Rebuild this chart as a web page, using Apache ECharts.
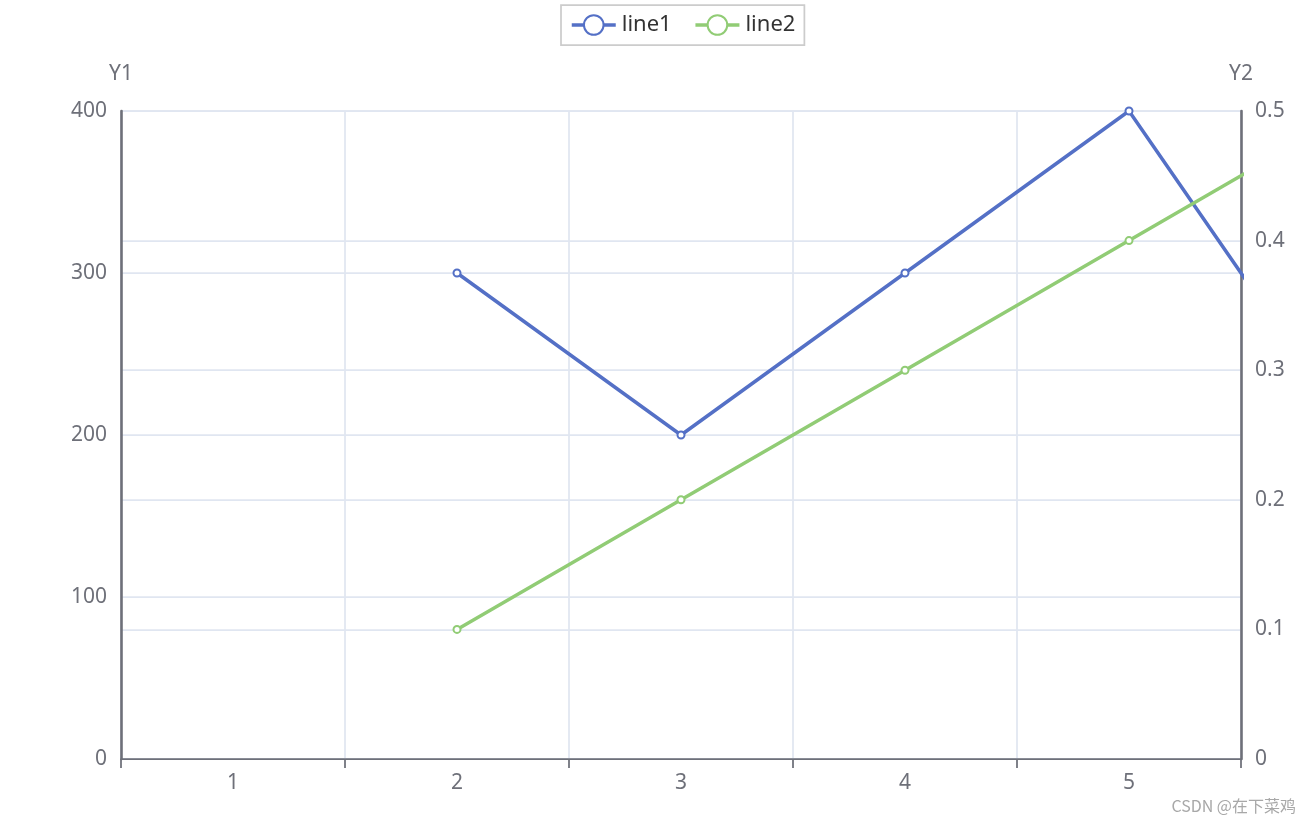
<!DOCTYPE html>
<html>
<head>
<meta charset="utf-8">
<script src="https://cdn.jsdelivr.net/npm/echarts@6/dist/echarts.min.js"></script>
<style>
html,body{margin:0;padding:0;background:#fff;}
#main{width:1312px;height:823px;}
</style>
</head>
<body>
<div id="main"></div>
<script>
var categories = ['1', '2', '3', '4', '5'];
var line1X = [1, 2, 3, 4, 5];
var line1Values = [300, 200, 300, 400, 200];
var line2X = [1, 2, 3, 4, 5];
var line2Values = [0.1, 0.2, 0.3, 0.4, 0.5];
var seriesNames = ['line1', 'line2'];
var watermark = 'CSDN @在下菜鸡';

var FONT = '"Noto Sans", "Noto Sans CJK SC", sans-serif';
var chart = echarts.init(document.getElementById('main'));

function pairs(xs, ys) {
  return xs.map(function (x, i) { return [x, ys[i]]; });
}

var option = {
  backgroundColor: '#fff',
  textStyle: { fontFamily: FONT },
  color: ['#5470c6', '#91cc75'],
  legend: {
    data: seriesNames,
    top: 5,
    left: 561,
    borderColor: '#ccc',
    borderWidth: 1.75,
    padding: [9, 9, 9, 9],
    itemWidth: 44,
    itemHeight: 24.5,
    itemGap: 22,
    lineStyle: { width: 3.5 },
    itemStyle: { borderWidth: 3.5 },
    textStyle: { fontSize: 22, color: '#333', fontFamily: FONT, padding: [0, 0, 0, 1] }
  },
  grid: { left: 121, right: 71, top: 111, bottom: 64 },
  xAxis: {
    type: 'category',
    data: categories,
    axisLine: { lineStyle: { color: '#6E7079', width: 1.75 } },
    axisTick: { show: true, length: 9, lineStyle: { width: 1.75 } },
    axisLabel: { fontSize: 21, margin: 14, color: '#6E7079', fontFamily: FONT },
    splitLine: { show: true, lineStyle: { color: '#E0E6F1', width: 1.75 } }
  },
  yAxis: [
    {
      type: 'value',
      name: 'Y1',
      min: 0, max: 400, interval: 100,
      nameGap: 26,
      nameTextStyle: { fontSize: 21, color: '#6E7079', fontFamily: FONT },
      axisLine: { show: true, lineStyle: { color: '#6E7079', width: 2.6 } },
      axisTick: { show: false },
      axisLabel: { fontSize: 21, margin: 14, color: '#6E7079', fontFamily: FONT },
      splitLine: { show: true, lineStyle: { color: '#E0E6F1', width: 1.75 } }
    },
    {
      type: 'value',
      name: 'Y2',
      min: 0, max: 0.5, interval: 0.1,
      nameGap: 26,
      nameTextStyle: { fontSize: 21, color: '#6E7079', fontFamily: FONT },
      axisLine: { show: true, lineStyle: { color: '#6E7079', width: 2.6 } },
      axisTick: { show: false },
      axisLabel: { fontSize: 21, margin: 14, color: '#6E7079', fontFamily: FONT },
      splitLine: { show: true, lineStyle: { color: '#E0E6F1', width: 1.75 } }
    }
  ],
  series: [
    {
      name: seriesNames[0],
      type: 'line',
      yAxisIndex: 0,
      data: pairs(line1X, line1Values),
      symbol: 'emptyCircle',
      symbolSize: 7,
      lineStyle: { width: 3.5 },
      itemStyle: { borderWidth: 3 }
    },
    {
      name: seriesNames[1],
      type: 'line',
      yAxisIndex: 1,
      data: pairs(line2X, line2Values),
      symbol: 'emptyCircle',
      symbolSize: 7,
      lineStyle: { width: 3.5 },
      itemStyle: { borderWidth: 3 }
    }
  ],
  graphic: [
    {
      type: 'text',
      right: 16,
      bottom: 9,
      style: {
        text: watermark,
        fontSize: 16,
        fill: '#a8a8a8',
        fontFamily: '"Noto Sans CJK SC", sans-serif'
      }
    }
  ]
};
chart.setOption(option);
</script>
</body>
</html>
